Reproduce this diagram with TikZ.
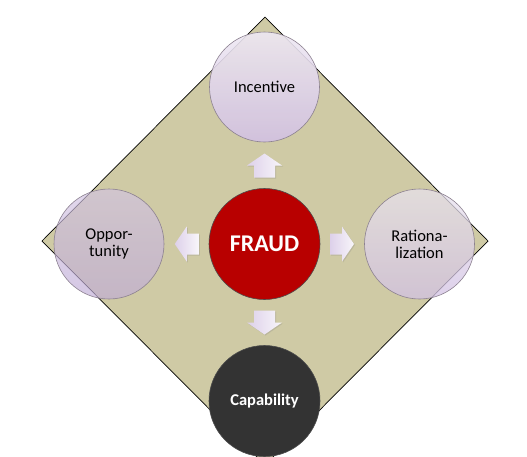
\documentclass[tikz,border=0pt]{standalone}
\usepackage{fontspec}
\setmainfont{Carlito}
\usetikzlibrary{shadows,calc}

\definecolor{diamondfill}{HTML}{CFCAA5}
\definecolor{lavtop}{HTML}{EEE8F3}
\definecolor{lavbot}{HTML}{D2C1E3}
\definecolor{opptop}{HTML}{D2C4E2}
\definecolor{oppbot}{HTML}{C0ACD6}
\definecolor{fraudred}{HTML}{B80000}
\definecolor{capgray}{HTML}{333333}
\definecolor{rimgray}{HTML}{8C8190}

\tikzset{
  factor/.style={circle, draw=rimgray, line width=0.6pt, minimum size=110pt,
    inner sep=0pt, top color=lavtop, bottom color=lavbot, align=center,
    font=\fontsize{16.5}{17}\selectfont},
  core/.style={circle, draw=black!70, line width=0.6pt, minimum size=111pt,
    inner sep=0pt, text=white},
  blockarrow/.style={left color=lavbot!75!white, right color=white!60!lavtop,
    draw=none, drop shadow={opacity=0.25, shadow xshift=1pt, shadow yshift=-1pt}}
}

% block arrow pointing along +x, centred at the origin
\newcommand{\blockarrowpath}{(-12,-10.5) -- (0,-10.5) -- (0,-17.5) -- (12,0)
  -- (0,17.5) -- (0,10.5) -- (-12,10.5) -- cycle}

\begin{document}
\begin{tikzpicture}[x=1pt, y=-1pt]
  \useasboundingbox (0,0) rectangle (527,456);
  \clip (0,0) rectangle (527,456);

  % background diamond
  \draw[fill=diamondfill, line width=0.7pt]
    (265,17) -- (488,241) -- (265,465) -- (42,241) -- cycle;

  % centre and the four factors
  \node[core, fill=fraudred, font=\bfseries\fontsize{24}{26}\selectfont]
    (fraud) at (264.5,244) {FRAUD};
  \node[factor, fill opacity=0.9, text opacity=1] (inc) at (264.5,87) {Incentive};
  \node[factor, top color=opptop, bottom color=oppbot,
    fill opacity=0.67, text opacity=1] (opp) at (109,244) {Oppor-\\tunity};
  \node[factor, top color=lavtop!95!gray, fill opacity=0.75, text opacity=1]
    (rat) at (419.5,244) {Rationa-\\lization};
  \node[core, fill=capgray, font=\bfseries\fontsize{16.5}{18}\selectfont]
    (cap) at (264.5,401) {Capability};

  % block arrows between them
  \path[blockarrow, shift={($(fraud)!0.5!(inc)$)}, rotate=90] \blockarrowpath;
  \path[blockarrow, shift={($(fraud)!0.5!(opp)$)}, rotate=180] \blockarrowpath;
  \path[blockarrow, shift={($(fraud)!0.5!(rat)$)}] \blockarrowpath;
  \path[blockarrow, shift={($(fraud)!0.5!(cap)$)}, rotate=270] \blockarrowpath;
\end{tikzpicture}
\end{document}
